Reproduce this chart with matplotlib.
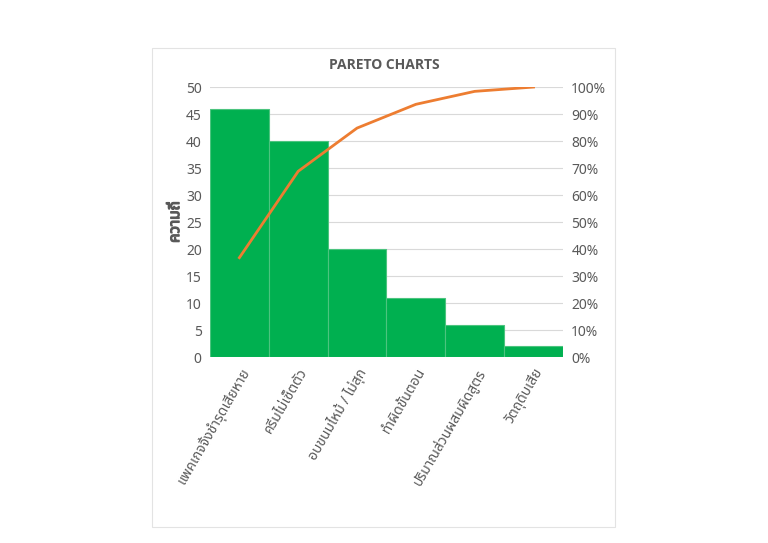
import matplotlib
matplotlib.use("Agg")
import matplotlib.pyplot as plt
import matplotlib.patheffects as pe
from matplotlib.font_manager import fontManager
from matplotlib.patches import Rectangle
from matplotlib.ticker import PercentFormatter

categories = ["แพคเกจจิ้งชำรุดเสียหาย", "ครีมไม่เซ็ตตัว", "อบขนมไหม้ / ไม่สุก",
              "ทำผิดขั้นตอน", "ปริมาณส่วนผสมผิดสูตร", "วัตถุดิบเสีย"]
counts = [46, 40, 20, 11, 6, 2]

total = sum(counts)
cum_pct = []
run = 0
for c in counts:
    run += c
    cum_pct.append(run / total)

# pick a Thai-capable family that is actually present
have = set(f.name for f in fontManager.ttflist)
thai = [f for f in ["Noto Sans Thai", "Noto Sans Thai UI", "Loma"] if f in have][:1]
plt.rcParams['font.family'] = thai + ['Open Sans', 'DejaVu Sans']

grey = '#595959'
green = '#00B050'
orange = '#ED7D31'

fig = plt.figure(figsize=(7.68, 5.43), dpi=100)
fig.patches.append(Rectangle((0.198, 0.0295), 0.603, 0.882, transform=fig.transFigure,
                             fill=False, edgecolor='#E3E3E3', linewidth=0.8))

ax = fig.add_axes([0.2734, 0.3425, 0.4596, 0.4972])
x = list(range(len(counts)))
ax.bar(x, counts, width=1.0, color=green, edgecolor='#4CC47F', linewidth=0.8, zorder=2)
ax.set_xlim(-0.5, len(counts) - 0.5)
ax.set_ylim(0, 50)
ax.set_yticks(range(0, 51, 5))
ax.grid(axis='y', color='#D9D9D9', linewidth=0.8, zorder=0)
ax.set_axisbelow(True)
for s in ax.spines.values():
    s.set_visible(False)
ax.tick_params(length=0, labelsize=10, labelcolor=grey, pad=6)
ax.set_xticks(x)
ax.set_xticklabels(categories, rotation=60, ha='right', rotation_mode='anchor',
                   fontsize=10, color=grey)
ylab = ax.set_ylabel("ความถี่", fontsize=11, color=grey, labelpad=2)
ylab.set_path_effects([pe.withStroke(linewidth=0.9, foreground=grey)])

ax2 = ax.twinx()
ax2.plot(x, cum_pct, color=orange, linewidth=2, zorder=3)
ax2.set_ylim(0, 1)
ax2.set_yticks([i / 10 for i in range(11)])
ax2.yaxis.set_major_formatter(PercentFormatter(1.0, decimals=0))
for s in ax2.spines.values():
    s.set_visible(False)
ax2.tick_params(length=0, labelsize=10, labelcolor=grey, pad=6)

fig.text(0.501, 0.881, "PARETO CHARTS", ha='center', va='center', fontsize=10,
         fontweight='bold', color=grey, family=['Open Sans', 'DejaVu Sans'])

fig.savefig("out.png")
